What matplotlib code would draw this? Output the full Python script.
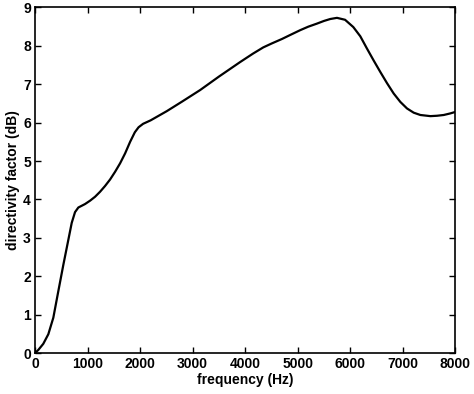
import matplotlib
matplotlib.use("Agg")
import matplotlib.pyplot as plt

plt.rcParams['font.family'] = ['Liberation Sans', 'DejaVu Sans']

freq = [0, 63, 158, 254, 349, 444, 540, 635, 699, 762, 825, 952, 1050, 1143,
        1238, 1333, 1429, 1524, 1619, 1715, 1810, 1900, 1971, 2057, 2200, 2508,
        2800, 3143, 3500, 3905, 4150, 4343, 4500, 4700, 4850, 5048, 5200, 5365,
        5500, 5619, 5746, 5900, 6057, 6190, 6317, 6444, 6571, 6698, 6825, 6952,
        7079, 7206, 7333, 7524, 7650, 7778, 7900, 8000]
dbf = [0.0, 0.08, 0.24, 0.49, 0.92, 1.61, 2.30, 2.95, 3.39, 3.67, 3.79, 3.88,
       3.97, 4.07, 4.20, 4.35, 4.52, 4.72, 4.94, 5.20, 5.50, 5.75, 5.88, 5.97,
       6.06, 6.30, 6.55, 6.85, 7.20, 7.58, 7.80, 7.96, 8.06, 8.18, 8.28, 8.41,
       8.50, 8.58, 8.65, 8.70, 8.73, 8.68, 8.49, 8.25, 7.93, 7.62, 7.32, 7.03,
       6.76, 6.54, 6.37, 6.26, 6.20, 6.17, 6.18, 6.20, 6.24, 6.28]

xticks = [0, 1000, 2000, 3000, 4000, 5000, 6000, 7000, 8000]
yticks = [0, 1, 2, 3, 4, 5, 6, 7, 8, 9]

fig = plt.figure(figsize=(4.74, 3.94), dpi=100)
ax = fig.add_axes([0.0738, 0.104, 0.887, 0.877])
ax.plot(freq, dbf, color='black', lw=1.6, solid_joinstyle='round')
ax.set_xlim(0, 8000)
ax.set_ylim(0, 9)
ax.set_xticks(xticks)
ax.set_yticks(yticks)
ax.tick_params(direction='in', top=True, right=True, length=4, width=1,
               labelsize=10, pad=3)
for lab in ax.get_xticklabels() + ax.get_yticklabels():
    lab.set_fontweight('bold')
for s in ax.spines.values():
    s.set_linewidth(1.2)
ax.set_xlabel('frequency (Hz)', fontsize=10, labelpad=1, fontweight='bold')
ax.set_ylabel('directivity factor (dB)', fontsize=10, labelpad=2, fontweight='bold')
fig.savefig('out.png', dpi=100)
